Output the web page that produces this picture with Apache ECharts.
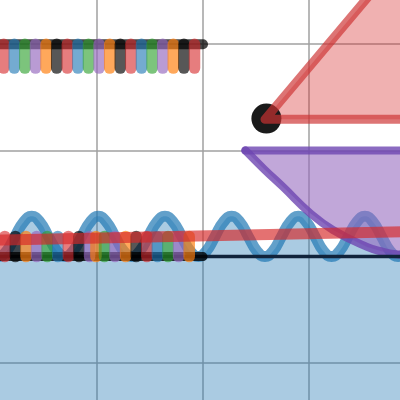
<!DOCTYPE html>
<html><head><meta charset="utf-8">
<script src="https://cdn.jsdelivr.net/npm/echarts@6/dist/echarts.min.js"></script>
<style>html,body{margin:0;padding:0;background:#fff;width:400px;height:400px;overflow:hidden;position:relative}
#c{position:absolute;left:-9px;top:-62px;width:424px;height:531px}</style>
</head><body><div id="c"></div>
<script>
// ---- data (axis units) ----
const topStrokeX = [0.12,0.22,0.32,0.42,0.52,0.62,0.72,0.82,0.92,1.02,1.12,1.22,1.32,1.42,1.52,1.62,1.72,1.82,1.92];
const topStrokeColor = [0,1,2,3,4,5,0,1,2,3,4,5,0,1,2,3,4,5,0];
const topStrokeY = [3.0, 2.775];
const lowStrokeX = [0.13,0.23,0.33,0.43,0.53,0.63,0.73,0.83,0.93,0.99,1.07,1.17,1.27,1.37,1.47,1.57,1.67,1.77,1.87];
const lowStrokeColor = [0,5,4,3,2,1,0,5,3,4,2,3,4,5,0,1,2,3,4];
const lowStrokeY = [1.0, 1.19];
const topBarX = [0, 2.0], topBarY = [3.0, 3.0];
const lowBarX = [0, 2.0], lowBarY = [1.0, 1.0];
const baseLineX = [0, 4.0], baseLineY = [1.0, 1.0];
const sineX = [-0.009,0.070,0.149,0.227,0.306,0.384,0.463,0.541,0.620,0.699,0.777,0.856,0.934,1.013,1.091,1.170,1.249,1.327,1.406,1.484,1.563,1.641,1.720,1.799,1.877,1.956,2.034,2.113,2.191,2.270,2.349,2.427,2.506,2.584,2.663,2.741,2.820,2.899,2.977,3.056,3.134,3.213,3.291,3.370,3.449,3.527,3.606,3.684,3.763,3.841,3.920,3.999];
const sineY = [1.056,1.00,1.056,1.19,1.324,1.38,1.324,1.19,1.056,1.00,1.056,1.19,1.324,1.38,1.324,1.19,1.056,1.00,1.056,1.19,1.324,1.38,1.324,1.19,1.056,1.00,1.056,1.19,1.324,1.38,1.324,1.19,1.056,1.00,1.056,1.19,1.324,1.38,1.324,1.19,1.056,1.00,1.056,1.19,1.324,1.38,1.324,1.19,1.056,1.00,1.056,1.19];
const redLineX = [0, 4.0], redLineY = [1.155, 1.237];
const purpleTopX = [2.40, 4.0], purpleTopY = [2.0, 2.0];
const purpleCurveX = [2.40, 2.58, 2.755, 3.009, 3.226, 3.547, 3.70, 3.858, 4.0];
const purpleCurveY = [2.0, 1.82, 1.656, 1.411, 1.251, 1.091, 1.045, 1.016, 1.0];
const redPathX = [4.0, 2.585, 4.0];
const redPathY = [3.97, 2.293, 2.293];
const dotX = [2.598], dotY = [2.30];

// ---- styles ----
const pal = ['rgba(214,39,40,0.6)','rgba(31,119,180,0.62)','rgba(44,160,44,0.62)','rgba(148,103,189,0.66)','rgba(255,127,14,0.68)','rgba(0,0,0,0.66)'];
const zip = (xs, ys) => xs.map((x, i) => [x, ys[i]]);

function strokeSeries(xs, cols, ys, width, z) {
  return {
    type: 'custom', z: z, clip: false,
    data: xs.map((x, i) => [x, ys[0], ys[1], cols[i]]),
    encode: { x: 0, y: [1, 2] },
    renderItem: function (params, api) {
      const p0 = api.coord([api.value(0), api.value(1)]);
      const p1 = api.coord([api.value(0), api.value(2)]);
      return { type: 'line', shape: { x1: p0[0], y1: p0[1], x2: p1[0], y2: p1[1] },
        style: { stroke: pal[api.value(3)], lineWidth: width, lineCap: 'round' } };
    }
  };
}
function polySeries(xs, ys, fill, z) {
  return {
    type: 'custom', z: z, clip: false,
    data: zip(xs, ys),
    encode: { x: 0, y: 1 },
    renderItem: function (params, api) {
      if (params.dataIndex !== 0) return null;
      const pts = xs.map((x, i) => api.coord([x, ys[i]]));
      return { type: 'polygon', shape: { points: pts }, style: { fill: fill } };
    }
  };
}
function lineSeries(xs, ys, color, width, z, extra) {
  return Object.assign({
    type: 'line', z: z, data: zip(xs, ys), showSymbol: false, symbol: 'none',
    lineStyle: { color: color, width: width, cap: 'round', join: 'round' }
  }, extra || {});
}

const purpleFillX = purpleTopX.concat(purpleCurveX.slice().reverse());
const purpleFillY = purpleTopY.concat(purpleCurveY.slice().reverse());
const redFillX = redPathX, redFillY = redPathY;

const axisCommon = {
  type: 'value', interval: 1,
  axisLine: { show: false }, axisTick: { show: false }, axisLabel: { show: false },
  splitLine: { show: true, lineStyle: { color: '#a0a0a0', width: 1.5 } }
};

const chart = echarts.init(document.getElementById('c'));
chart.setOption({
  animation: false,
  grid: { left: 0, top: 0, right: 0, bottom: 0 },
  xAxis: Object.assign({}, axisCommon, { min: 0, max: 4 }),
  yAxis: Object.assign({}, axisCommon, { min: -1, max: 4 }),
  series: [
    lineSeries(sineX, sineY, 'rgba(31,119,180,0.7)', 11, 3,
      { smooth: true, areaStyle: { color: 'rgba(31,119,180,0.38)', opacity: 1, origin: 'start' } }),
    polySeries(redFillX, redFillY, 'rgba(214,39,40,0.36)', 4),
    polySeries(purpleFillX, purpleFillY, 'rgba(148,103,189,0.58)', 4),
    lineSeries(purpleTopX, purpleTopY, 'rgba(110,70,178,0.8)', 8, 5),
    lineSeries(purpleCurveX, purpleCurveY, 'rgba(110,70,178,0.8)', 8, 5, { smooth: true }),
    { type: 'scatter', z: 6, data: zip(dotX, dotY), symbolSize: 30, itemStyle: { color: '#1a1a1a', opacity: 1 } },
    lineSeries(redPathX, redPathY, 'rgba(205,50,50,0.68)', 9, 7),
    lineSeries(topBarX, topBarY, 'rgba(0,0,0,0.72)', 10, 8),
    strokeSeries(topStrokeX, topStrokeColor, topStrokeY, 11.5, 9),
    lineSeries(baseLineX, baseLineY, '#10233b', 3.5, 8),
    lineSeries(lowBarX, lowBarY, 'rgba(0,0,0,0.78)', 9, 8),
    strokeSeries(lowStrokeX, lowStrokeColor, lowStrokeY, 11.5, 9),
    lineSeries(redLineX, redLineY, 'rgba(214,39,40,0.66)', 11, 10)
  ]
});
</script></body></html>
